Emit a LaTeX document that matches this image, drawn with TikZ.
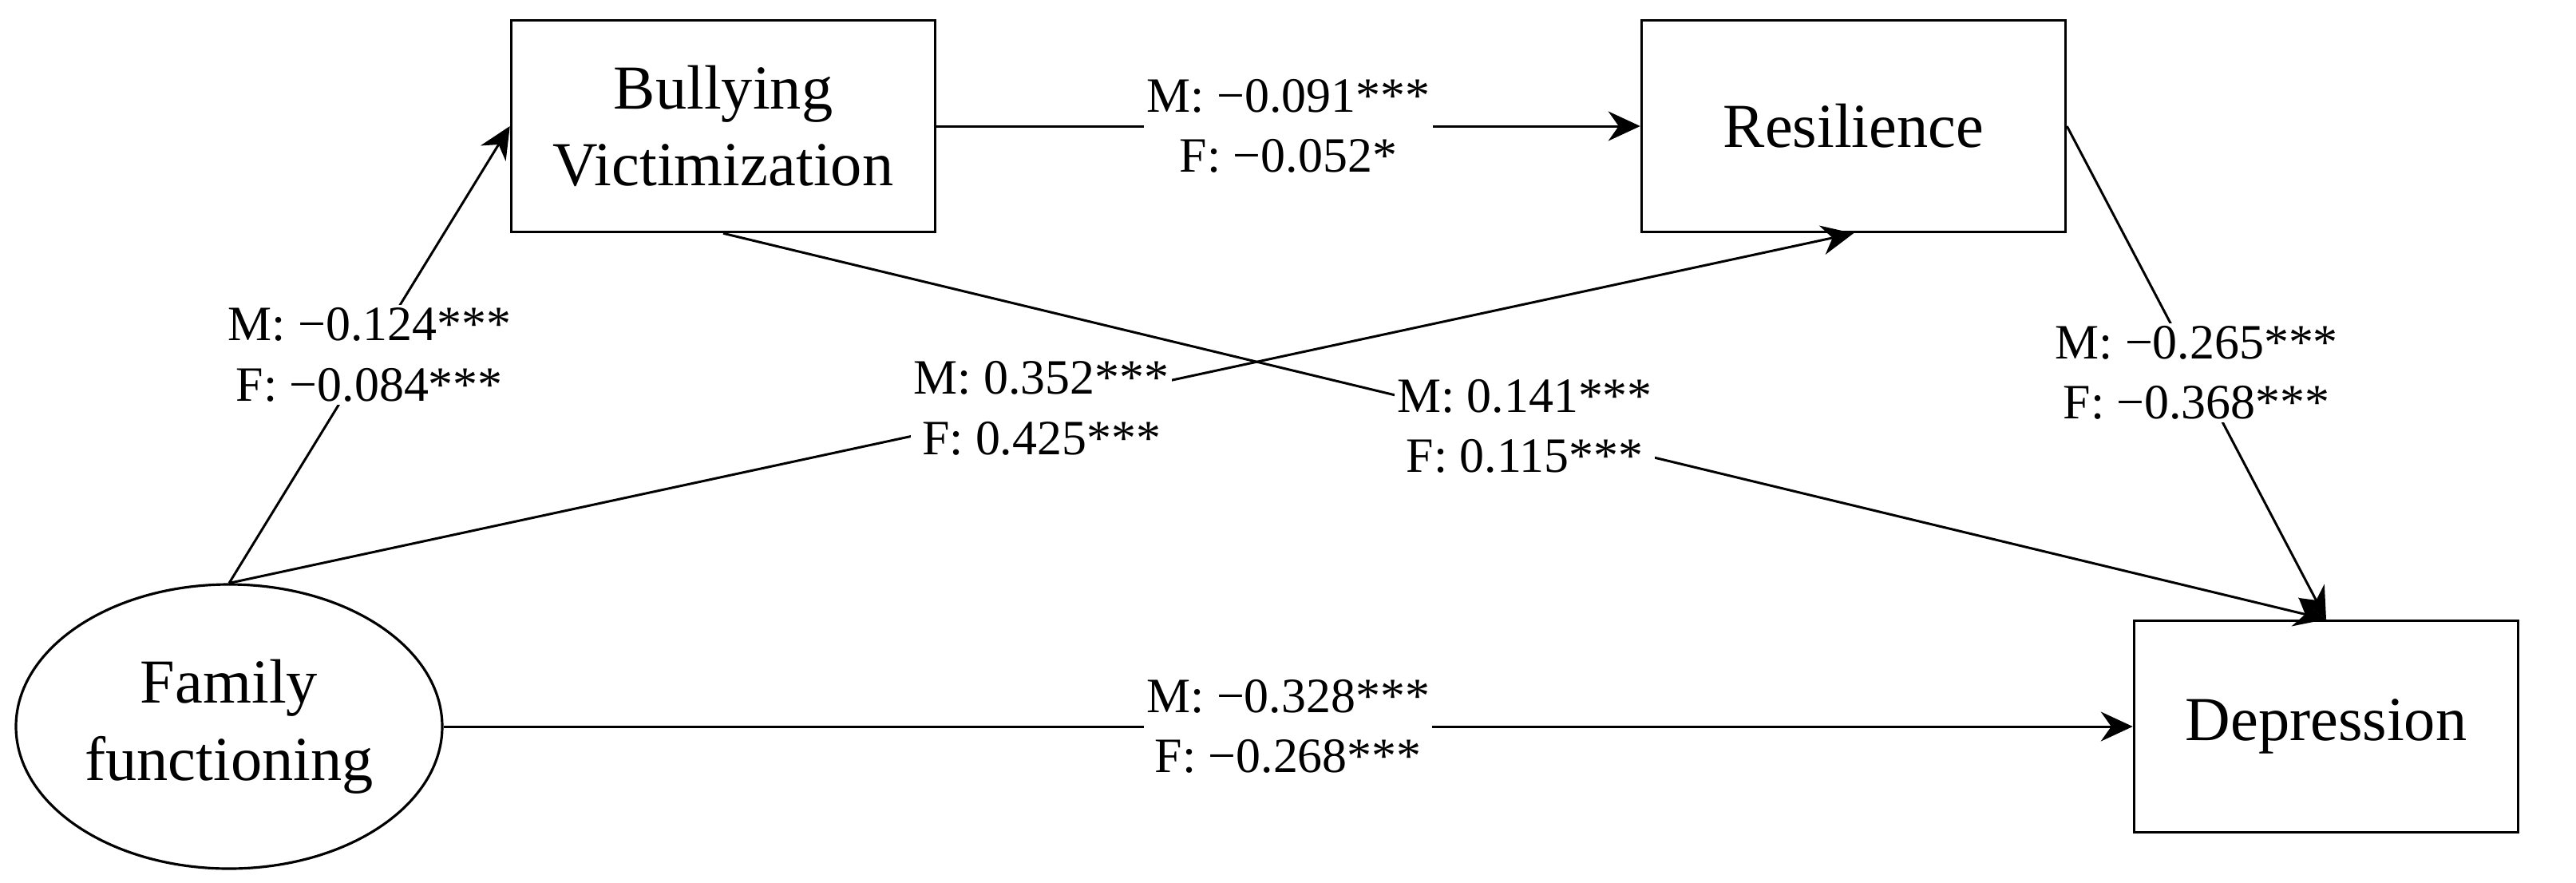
\documentclass[tikz,border=0pt]{standalone}
\usepackage{fontspec}
\setmainfont{Liberation Serif}
\usetikzlibrary{shapes,arrows.meta}
\tikzset{%
  observed/.style={rectangle,draw,line width=1pt,minimum width=5.31cm,
    minimum height=2.65cm,align=center,font=\fontsize{22.3}{27.5}\selectfont},
  latent/.style={ellipse,draw,line width=0.9pt,inner sep=0pt,minimum width=5.34cm,
    minimum height=3.56cm,align=center,font=\fontsize{22.3}{27.5}\selectfont},
  coef/.style={fill=white,inner sep=1pt,align=center,
    font=\fontsize{17.6}{21.5}\selectfont},
  effect/.style={-{Stealth[length=4mm,width=3.7mm]},line width=0.85pt}
}

\begin{document}
\begin{tikzpicture}
    \useasboundingbox (0,0) rectangle (32.27,-11.05);

    \node [latent] (fam) at (2.87,-9.10) {Family\\functioning};
    \node [observed,minimum width=4.81cm] (depr) [node distance=26.27cm, right of=fam] {Depression};
    \node [observed] (bully) [node distance=7.52cm, above of=fam, xshift=6.19cm] {Bullying\\Victimization};
    \node [observed] (resil) [node distance=14.16cm, right of=bully] {Resilience};

    \draw [effect] (fam.north) -- node [coef] {M: −0.124***\\F: −0.084***} (bully.west);
    \draw [effect] (fam.north) -- node [coef] {M: 0.352***\\F: 0.425***} (resil.south);
    \draw [effect] (fam.east) -- node [coef] {M: −0.328***\\F: −0.268***} (depr.west);
    \draw [effect] (bully.east) -- node [coef] {M: −0.091***\\F: −0.052*} (resil.west);
    \draw [effect] (bully.south) -- node [coef] {M: 0.141***\\F: 0.115***} (depr.north);
    \draw [effect] (resil.east) -- node [coef] {M: −0.265***\\F: −0.368***} (depr.north);
  \end{tikzpicture}
\end{document}
